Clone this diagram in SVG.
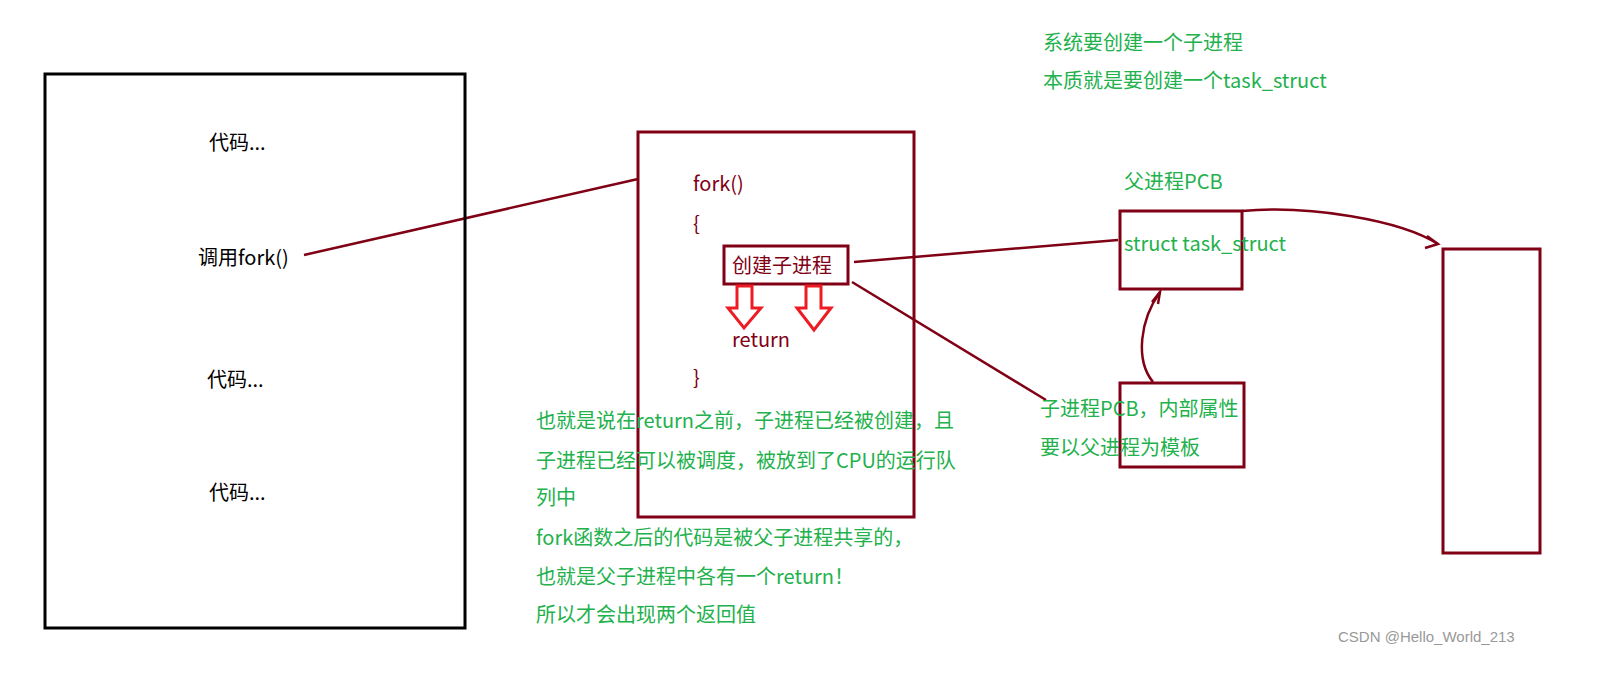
<svg xmlns="http://www.w3.org/2000/svg" width="1618" height="674" viewBox="0 0 1618 674">
<style>
.b{fill:none;stroke:#000;stroke-width:3}
.r{fill:none;stroke:#800015;stroke-width:3}
.l{fill:none;stroke:#800015;stroke-width:2.5}
.t{font-family:"Noto Sans CJK SC","Liberation Sans",sans-serif;font-size:20px}
.k{fill:#000}.g{fill:#22b14c}.d{fill:#800015}
.a{fill:#fff;stroke:#ed1c24;stroke-width:3}
</style>
<rect width="1618" height="674" fill="#fff"/>
<g id="connectors">
<line class="l" x1="304" y1="255" x2="638" y2="179"/>
<line class="l" x1="854" y1="262" x2="1118" y2="240"/>
<line class="l" x1="852" y1="282" x2="1046" y2="400"/>
<path class="l" d="M1242 211 C1310 205 1400 220 1438 244"/>
<path class="l" d="M1427 236 L1438 244 L1425 248"/>
<path class="l" d="M1160 292 C1140 320 1135 360 1153 382"/>
<path class="l" d="M1152 302 L1160 292 L1158 304"/>
</g>
<g id="program"><rect class="b" x="45" y="74" width="420" height="554"/>
<text class="t k" x="209" y="150">代码...</text>
<text class="t k" x="198" y="265">调用fork()</text>
<text class="t k" x="207" y="387">代码...</text>
<text class="t k" x="209" y="500">代码...</text></g>
<g id="fork"><rect class="r" x="638" y="132" width="276" height="385"/>
<text class="t d" x="693" y="191">fork()</text>
<text class="t d" x="693" y="231">{</text>
<text class="t d" x="732" y="347">return</text>
<text class="t d" x="693" y="385">}</text></g>
<g id="create"><rect class="r" x="724" y="246" width="124" height="38"/>
<text class="t d" x="732" y="273">创建子进程</text></g>
<g id="arrows">
<polygon class="a" points="737,286 752,286 752,308 761,308 744,328 728,308 737,308"/>
<polygon class="a" points="806,286 821,286 821,308 831,308 814,330 797,308 806,308"/>
</g>
<g id="parentpcb"><rect class="r" x="1120" y="211" width="122" height="78"/>
<text class="t g" x="1124" y="189">父进程PCB</text>
<text class="t g" x="1124" y="251">struct task_struct</text></g>
<g id="childpcb"><rect class="r" x="1120" y="383" width="124" height="84"/>
<text class="t g" x="1040" y="416">子进程PCB，内部属性</text>
<text class="t g" x="1040" y="455">要以父进程为模板</text></g>
<g id="runqueue"><rect class="r" x="1443" y="249" width="97" height="304"/></g>
<g id="notes">
<text class="t g" x="1043" y="50">系统要创建一个子进程</text>
<text class="t g" x="1043" y="88">本质就是要创建一个task_struct</text>
<text class="t g" x="536" y="428">也就是说在return之前，子进程已经被创建，且</text>
<text class="t g" x="536" y="468">子进程已经可以被调度，被放到了CPU的运行队</text>
<text class="t g" x="536" y="505">列中</text>
<text class="t g" x="536" y="545">fork函数之后的代码是被父子进程共享的，</text>
<text class="t g" x="536" y="584">也就是父子进程中各有一个return！</text>
<text class="t g" x="536" y="622">所以才会出现两个返回值</text>
<text x="1338" y="642" style="font-family:'Liberation Sans',sans-serif;font-size:15px;fill:#999">CSDN @Hello_World_213</text>
</g>
</svg>
